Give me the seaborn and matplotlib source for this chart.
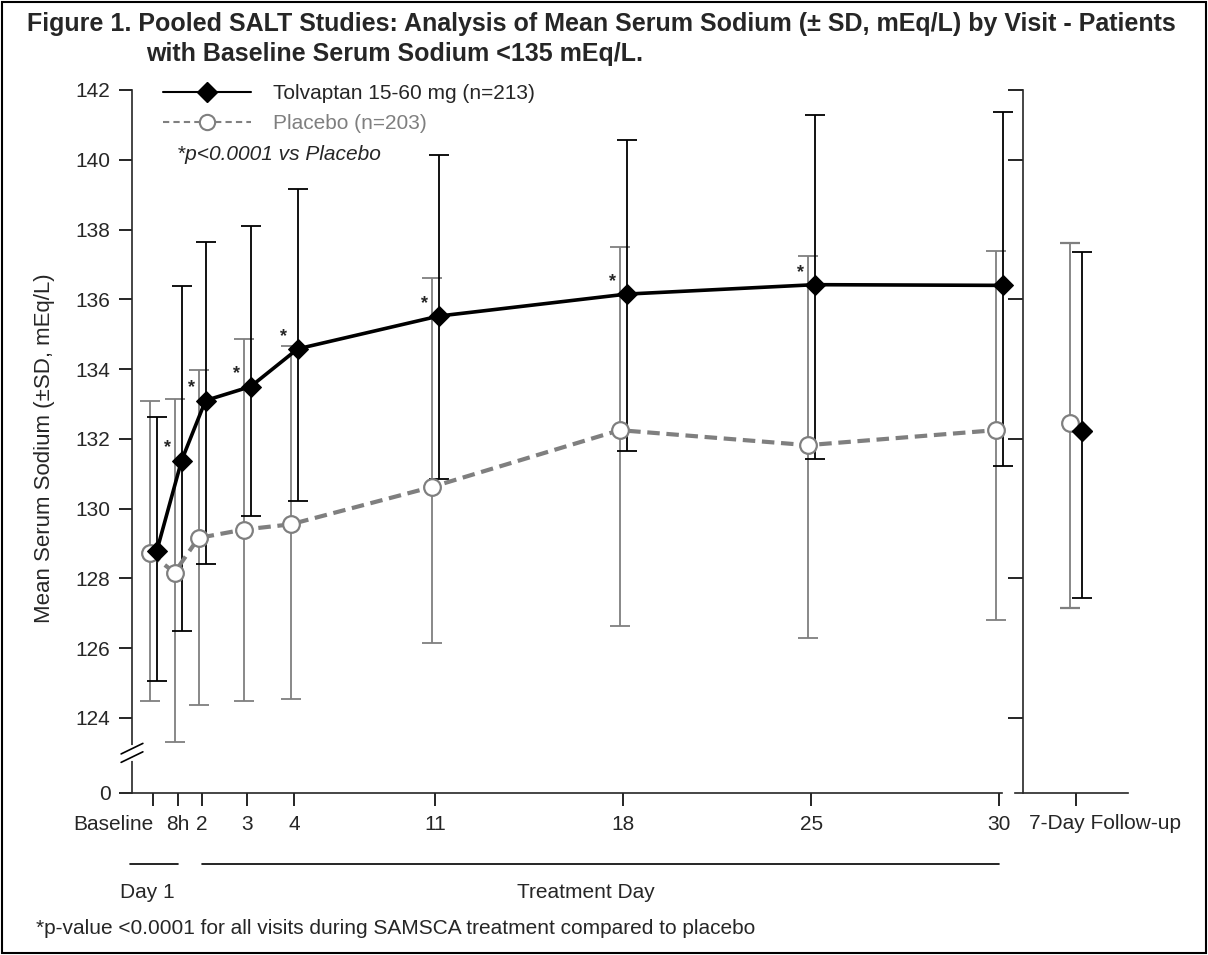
import numpy as np
import pandas as pd
import seaborn as sns
import matplotlib.pyplot as plt
from matplotlib.lines import Line2D

# === Données ===
visites = ["Baseline", "8h", "2", "3", "4", "11", "18", "25", "30"]
# position des visites sur l'axe (échelle non linéaire de la figure)
pos_visites = [0, 0.53, 1.04, 2, 3, 6, 10, 14, 18]
significatif = [False, True, True, True, True, True, True, True, True]

tolv_moy = [128.78, 131.38, 133.10, 133.50, 134.58, 135.52, 136.15, 136.42, 136.40]
tolv_haut = [132.63, 136.37, 137.65, 138.10, 139.15, 140.15, 140.57, 141.27, 141.38]
tolv_bas = [125.05, 126.50, 128.40, 129.78, 130.22, 130.85, 131.65, 131.42, 131.22]

plac_moy = [128.72, 128.17, 129.16, 129.40, 129.55, 130.62, 132.25, 131.82, 132.25]
plac_haut = [133.10, 133.15, 133.97, 134.85, 134.65, 136.60, 137.50, 137.25, 137.38]
plac_bas = [124.50, 123.30, 124.36, 124.48, 124.53, 126.15, 126.65, 126.30, 126.80]

# suivi à 7 jours
suivi_label = "7-Day Follow-up"
tolv_suivi_moy, tolv_suivi_bas, tolv_suivi_haut = 132.22, 127.43, 137.35
plac_suivi_moy, plac_suivi_bas, plac_suivi_haut = 132.45, 127.15, 137.62

y_ticks = [124, 126, 128, 130, 132, 134, 136, 138, 140, 142]
y_ticks_suivi = [124, 128, 132, 136, 140, 142]
y_zero = 121.85  # position du "0" sous la coupure d'axe

lab_tolv = "Tolvaptan 15-60 mg (n=213)"
lab_plac = "Placebo (n=203)"

# === Style ===
sns.set_style("ticks")
plt.rcParams["font.family"] = ["Liberation Sans", "DejaVu Sans"]
plt.rcParams["font.size"] = 15
gris = "#7f7f7f"
decal = 0.075
fs = 15

df = pd.DataFrame({
    "visite": visites * 2,
    "x": [p + decal for p in pos_visites] + [p - decal for p in pos_visites],
    "groupe": ["Tolvaptan"] * len(visites) + ["Placebo"] * len(visites),
    "moy": tolv_moy + plac_moy,
    "bas": tolv_bas + plac_bas,
    "haut": tolv_haut + plac_haut,
})
tolv = df[df["groupe"] == "Tolvaptan"]
plac = df[df["groupe"] == "Placebo"]

fig = plt.figure(figsize=(12.08, 9.55), dpi=100)
ax = fig.add_axes([132 / 1208, 1 - 793 / 955, 869.5 / 1208, 703 / 955])
ax2 = fig.add_axes([1015 / 1208, 1 - 793 / 955, 113 / 1208, 703 / 955])


def sans_clip(cont):
    for art in cont.get_children():
        art.set_clip_on(False)


# --- barres d'écart-type ---
eb = ax.errorbar(plac["x"], plac["moy"], yerr=[plac["moy"] - plac["bas"], plac["haut"] - plac["moy"]],
                 fmt="none", ecolor=gris, elinewidth=1.3, capsize=7, capthick=1.3, zorder=2)
sans_clip(eb)
eb = ax.errorbar(tolv["x"], tolv["moy"], yerr=[tolv["moy"] - tolv["bas"], tolv["haut"] - tolv["moy"]],
                 fmt="none", ecolor="black", elinewidth=1.3, capsize=7, capthick=1.3, zorder=3)
sans_clip(eb)

# --- courbes ---
sns.lineplot(data=plac, x="x", y="moy", ax=ax, color=gris, lw=3, linestyle=(0, (3, 1.6)),
             marker="o", markersize=12, markerfacecolor="white", markeredgecolor=gris,
             markeredgewidth=1.6, estimator=None, sort=False, zorder=4, clip_on=False)
sns.lineplot(data=tolv, x="x", y="moy", ax=ax, color="black", lw=2.6, marker="D",
             markersize=10, markeredgecolor="black", estimator=None, sort=False, zorder=5,
             clip_on=False)

for x, y, s in zip(tolv["x"], tolv["moy"], significatif):
    if s:
        ax.annotate("*", (x, y), xytext=(-10, 9), textcoords="offset points",
                    ha="center", va="center", fontsize=13, fontweight="bold")

ax.set_xlim(-0.45, 18.05)
ax.set_ylim(y_zero, 142.0)
ax.set_xticks(pos_visites, labels=visites)
ax.get_xticklabels()[0].set_ha("right")
ax.set_yticks([y_zero] + y_ticks, labels=["0"] + [str(t) for t in y_ticks])
ax.tick_params(axis="both", length=9.5, width=1.2, pad=6, labelsize=fs, color="black")
ax.set_xlabel("")
ax.set_ylabel("Mean Serum Sodium (\u00b1SD, mEq/L)", fontsize=16)
ax.yaxis.set_label_coords(-0.088, 0.49)
sns.despine(ax=ax)
for sp in ["left", "bottom"]:
    ax.spines[sp].set_linewidth(1.2)

# --- coupure de l'axe y ---
y_coupe = (123.0 - y_zero) / (142.0 - y_zero)
ax.plot([0, 0], [y_coupe - 0.008, y_coupe + 0.008], transform=ax.transAxes, color="white",
        lw=3, clip_on=False, zorder=6)
for dy in (-0.006, 0.006):
    ax.plot([-0.0125, 0.0125], [y_coupe + dy - 0.0075, y_coupe + dy + 0.0075],
            transform=ax.transAxes, color="black", lw=1.2, clip_on=False, zorder=7)

# --- légende ---
poignees = [
    Line2D([], [], color="black", lw=1.5, marker="D", markersize=10),
    Line2D([], [], color=gris, lw=1.5, linestyle=(0, (3, 2)), marker="o", markersize=11,
           markerfacecolor="white", markeredgecolor=gris, markeredgewidth=1.5),
]
leg = ax.legend(poignees, [lab_tolv, lab_plac], loc="upper left",
                bbox_to_anchor=((163 - 132) / 869.5, 1.008), frameon=False,
                borderpad=0, borderaxespad=0, handlelength=4.2, handletextpad=1.1,
                labelspacing=0.5, fontsize=fs)
leg.get_texts()[1].set_color(gris)
ax.text((177 - 132) / 869.5, (793 - 155) / 703, "*p<0.0001 vs Placebo", transform=ax.transAxes,
        fontsize=fs, style="italic", va="center", ha="left")

# --- accolades sous l'axe x ---
tr = ax.get_xaxis_transform()
ax.plot([pos_visites[0] - 0.49, pos_visites[1]], [-0.101, -0.101], transform=tr, color="black",
        lw=1.2, clip_on=False)
ax.plot([pos_visites[2], pos_visites[-1]], [-0.101, -0.101], transform=tr, color="black",
        lw=1.2, clip_on=False)
ax.text(pos_visites[0] - 0.13, -0.142, "Day 1", transform=tr, ha="center", va="center", fontsize=fs)
ax.text(9.2, -0.142, "Treatment Day", transform=tr, ha="center", va="center", fontsize=fs)

# --- panneau suivi 7 jours ---
suivi_pos = 0.54
eb = ax2.errorbar([suivi_pos - 0.053], [plac_suivi_moy],
                  yerr=[[plac_suivi_moy - plac_suivi_bas], [plac_suivi_haut - plac_suivi_moy]],
                  fmt="o", color=gris, markersize=12, markerfacecolor="white", markeredgecolor=gris,
                  markeredgewidth=1.6, elinewidth=1.3, capsize=7, capthick=1.3, zorder=3)
eb = ax2.errorbar([suivi_pos + 0.053], [tolv_suivi_moy],
                  yerr=[[tolv_suivi_moy - tolv_suivi_bas], [tolv_suivi_haut - tolv_suivi_moy]],
                  fmt="D", color="black", markersize=10, elinewidth=1.3, capsize=7, capthick=1.3,
                  zorder=4)
ax2.set_xlim(0, 1)
ax2.set_ylim(y_zero, 142.0)
ax2.set_yticks(y_ticks_suivi, labels=[""] * len(y_ticks_suivi))
ax2.set_xticks([suivi_pos], labels=[""])
ax2.annotate(suivi_label, (suivi_pos, 0), xycoords=ax2.get_xaxis_transform(),
             xytext=(21, -22), textcoords="offset points", ha="center", va="center", fontsize=fs)
ax2.tick_params(axis="both", length=9.5, width=1.2, pad=6, labelsize=fs, color="black")
ax2.tick_params(axis="y", length=11)
sns.despine(ax=ax2)
ax2.spines["left"].set_position(("axes", 8 / 113))
for sp in ["left", "bottom"]:
    ax2.spines[sp].set_linewidth(1.2)
ax2.patch.set_alpha(0)

# --- titre, note et cadre ---
fig.text(27 / 1208, 1 - 24 / 955,
         "Figure 1. Pooled SALT Studies: Analysis of Mean Serum Sodium (\u00b1 SD, mEq/L) by Visit - Patients",
         fontsize=18, fontweight="bold", va="center", ha="left")
fig.text(146 / 1208, 1 - 54 / 955, "with Baseline Serum Sodium <135 mEq/L.",
         fontsize=18, fontweight="bold", va="center", ha="left")
fig.text(36 / 1208, 1 - 928 / 955,
         "*p-value <0.0001 for all visits during SAMSCA treatment compared to placebo",
         fontsize=fs, va="center", ha="left")
fig.add_artist(plt.Rectangle((0.002, 0.002), 0.996, 0.996, transform=fig.transFigure,
                             fill=False, lw=1.5, edgecolor="black"))

fig.savefig("out.png", dpi=100)
